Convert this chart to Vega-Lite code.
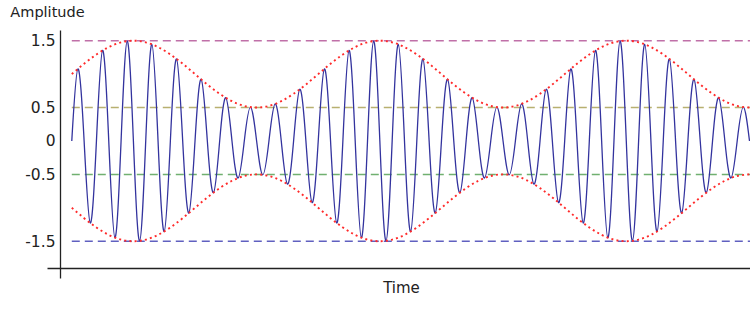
{
  "$schema": "https://vega.github.io/schema/vega-lite/v6.json",
  "autosize": "none",
  "width": 703,
  "height": 248,
  "padding": {"left": 47, "top": 30, "right": 0, "bottom": 39},
  "background": "white",
  "config": {"view": {"stroke": null}, "font": "DejaVu Sans"},
  "datasets": {
    "sig": [
      {"t":0,"v":0},{"t":0.25,"v":1.078},{"t":0.5,"v":0},{"t":0.75,"v":-1.227},
      {"t":1,"v":0},{"t":1.25,"v":1.354},{"t":1.5,"v":0},{"t":1.75,"v":-1.446},
      {"t":2,"v":0},{"t":2.25,"v":1.494},{"t":2.5,"v":0},{"t":2.75,"v":-1.494},
      {"t":3,"v":0},{"t":3.25,"v":1.446},{"t":3.5,"v":0},{"t":3.75,"v":-1.354},
      {"t":4,"v":0},{"t":4.25,"v":1.227},{"t":4.5,"v":0},{"t":4.75,"v":-1.078},
      {"t":5,"v":0},{"t":5.25,"v":0.922},{"t":5.5,"v":0},{"t":5.75,"v":-0.773},
      {"t":6,"v":0},{"t":6.25,"v":0.646},{"t":6.5,"v":0},{"t":6.75,"v":-0.554},
      {"t":7,"v":0},{"t":7.25,"v":0.506},{"t":7.5,"v":0},{"t":7.75,"v":-0.506},
      {"t":8,"v":0},{"t":8.25,"v":0.554},{"t":8.5,"v":0},{"t":8.75,"v":-0.646},
      {"t":9,"v":0},{"t":9.25,"v":0.773},{"t":9.5,"v":0},{"t":9.75,"v":-0.922},
      {"t":10,"v":0},{"t":10.25,"v":1.078},{"t":10.5,"v":0},{"t":10.75,"v":-1.227},
      {"t":11,"v":0},{"t":11.25,"v":1.354},{"t":11.5,"v":0},{"t":11.75,"v":-1.446},
      {"t":12,"v":0},{"t":12.25,"v":1.494},{"t":12.5,"v":0},{"t":12.75,"v":-1.494},
      {"t":13,"v":0},{"t":13.25,"v":1.446},{"t":13.5,"v":0},{"t":13.75,"v":-1.354},
      {"t":14,"v":0},{"t":14.25,"v":1.227},{"t":14.5,"v":0},{"t":14.75,"v":-1.078},
      {"t":15,"v":0},{"t":15.25,"v":0.922},{"t":15.5,"v":0},{"t":15.75,"v":-0.773},
      {"t":16,"v":0},{"t":16.25,"v":0.646},{"t":16.5,"v":0},{"t":16.75,"v":-0.554},
      {"t":17,"v":0},{"t":17.25,"v":0.506},{"t":17.5,"v":0},{"t":17.75,"v":-0.506},
      {"t":18,"v":0},{"t":18.25,"v":0.554},{"t":18.5,"v":0},{"t":18.75,"v":-0.646},
      {"t":19,"v":0},{"t":19.25,"v":0.773},{"t":19.5,"v":0},{"t":19.75,"v":-0.922},
      {"t":20,"v":0},{"t":20.25,"v":1.078},{"t":20.5,"v":0},{"t":20.75,"v":-1.227},
      {"t":21,"v":0},{"t":21.25,"v":1.354},{"t":21.5,"v":0},{"t":21.75,"v":-1.446},
      {"t":22,"v":0},{"t":22.25,"v":1.494},{"t":22.5,"v":0},{"t":22.75,"v":-1.494},
      {"t":23,"v":0},{"t":23.25,"v":1.446},{"t":23.5,"v":0},{"t":23.75,"v":-1.354},
      {"t":24,"v":0},{"t":24.25,"v":1.227},{"t":24.5,"v":0},{"t":24.75,"v":-1.078},
      {"t":25,"v":0},{"t":25.25,"v":0.922},{"t":25.5,"v":0},{"t":25.75,"v":-0.773},
      {"t":26,"v":0},{"t":26.25,"v":0.646},{"t":26.5,"v":0},{"t":26.75,"v":-0.554},
      {"t":27,"v":0},{"t":27.25,"v":0.506},{"t":27.5,"v":0}
    ],
    "env": [
      {"t":0,"u":1.0,"l":-1.0},{"t":0.5,"u":1.155,"l":-1.155},{"t":1,"u":1.294,"l":-1.294},{"t":1.5,"u":1.405,"l":-1.405},
      {"t":2,"u":1.476,"l":-1.476},{"t":2.5,"u":1.5,"l":-1.5},{"t":3,"u":1.476,"l":-1.476},{"t":3.5,"u":1.405,"l":-1.405},
      {"t":4,"u":1.294,"l":-1.294},{"t":4.5,"u":1.155,"l":-1.155},{"t":5,"u":1.0,"l":-1.0},{"t":5.5,"u":0.845,"l":-0.845},
      {"t":6,"u":0.706,"l":-0.706},{"t":6.5,"u":0.595,"l":-0.595},{"t":7,"u":0.524,"l":-0.524},{"t":7.5,"u":0.5,"l":-0.5},
      {"t":8,"u":0.524,"l":-0.524},{"t":8.5,"u":0.595,"l":-0.595},{"t":9,"u":0.706,"l":-0.706},{"t":9.5,"u":0.845,"l":-0.845},
      {"t":10,"u":1.0,"l":-1.0},{"t":10.5,"u":1.155,"l":-1.155},{"t":11,"u":1.294,"l":-1.294},{"t":11.5,"u":1.405,"l":-1.405},
      {"t":12,"u":1.476,"l":-1.476},{"t":12.5,"u":1.5,"l":-1.5},{"t":13,"u":1.476,"l":-1.476},{"t":13.5,"u":1.405,"l":-1.405},
      {"t":14,"u":1.294,"l":-1.294},{"t":14.5,"u":1.155,"l":-1.155},{"t":15,"u":1.0,"l":-1.0},{"t":15.5,"u":0.845,"l":-0.845},
      {"t":16,"u":0.706,"l":-0.706},{"t":16.5,"u":0.595,"l":-0.595},{"t":17,"u":0.524,"l":-0.524},{"t":17.5,"u":0.5,"l":-0.5},
      {"t":18,"u":0.524,"l":-0.524},{"t":18.5,"u":0.595,"l":-0.595},{"t":19,"u":0.706,"l":-0.706},{"t":19.5,"u":0.845,"l":-0.845},
      {"t":20,"u":1.0,"l":-1.0},{"t":20.5,"u":1.155,"l":-1.155},{"t":21,"u":1.294,"l":-1.294},{"t":21.5,"u":1.405,"l":-1.405},
      {"t":22,"u":1.476,"l":-1.476},{"t":22.5,"u":1.5,"l":-1.5},{"t":23,"u":1.476,"l":-1.476},{"t":23.5,"u":1.405,"l":-1.405},
      {"t":24,"u":1.294,"l":-1.294},{"t":24.5,"u":1.155,"l":-1.155},{"t":25,"u":1.0,"l":-1.0},{"t":25.5,"u":0.845,"l":-0.845},
      {"t":26,"u":0.706,"l":-0.706},{"t":26.5,"u":0.595,"l":-0.595},{"t":27,"u":0.524,"l":-0.524},{"t":27.5,"u":0.5,"l":-0.5}
    ],
    "ref": [
      {"lvl":"a","y":1.5,"t0":0,"t1":27.52},
      {"lvl":"b","y":0.5,"t0":0,"t1":27.52},
      {"lvl":"c","y":-0.5,"t0":0,"t1":27.52},
      {"lvl":"d","y":-1.5,"t0":0,"t1":27.52}
    ]
  },
  "encoding": {
    "x": {
      "type": "quantitative",
      "scale": {"domain": [-1.006, 27.52], "nice": false, "zero": false},
      "axis": {
        "title": "Time",
        "orient": "bottom",
        "offset": -10,
        "labels": false,
        "ticks": false,
        "grid": false,
        "domainColor": "#222222",
        "domainWidth": 1.3,
        "titleFont": "DejaVu Sans",
        "titleFontSize": 15,
        "titleFontWeight": "normal",
        "titleColor": "#222222",
        "titleX": 354,
        "titleY": 24,
        "titleBaseline": "alphabetic",
        "titleAlign": "center"
      }
    },
    "y": {
      "type": "quantitative",
      "scale": {"domain": [-2.05, 1.66], "nice": false, "zero": false},
      "axis": {
        "title": "Amplitude",
        "orient": "left",
        "offset": -13,
        "values": [1.5, 0.5, 0, -0.5, -1.5],
        "format": ".1~f",
        "labelExpr": "replace(datum.label, '\u2212', '-')",
        "ticks": false,
        "grid": false,
        "labelPadding": 5,
        "labelFont": "DejaVu Sans",
        "labelFontSize": 15.5,
        "labelColor": "#222222",
        "labelOverlap": false,
        "labelBound": false,
        "labelFlush": false,
        "domainColor": "#222222",
        "domainWidth": 1.3,
        "titleFont": "DejaVu Sans",
        "titleFontSize": 14.5,
        "titleFontWeight": "normal",
        "titleColor": "#222222",
        "titleAngle": 0,
        "titleAlign": "center",
        "titleBaseline": "alphabetic",
        "titleX": -13,
        "titleY": -13.5
      }
    }
  },
  "layer": [
    {
      "data": {"name": "ref"},
      "mark": {"type": "rule", "strokeDash": [8, 5], "strokeWidth": 1.5},
      "encoding": {
        "x": {"field": "t0", "type": "quantitative"},
        "x2": {"field": "t1"},
        "y": {"field": "y", "type": "quantitative"},
        "color": {
          "field": "lvl",
          "type": "nominal",
          "scale": {"domain": ["a", "b", "c", "d"], "range": ["#c070a8", "#b8b070", "#70b070", "#6060c0"]},
          "legend": null
        }
      }
    },
    {
      "data": {"name": "sig"},
      "mark": {"type": "line", "interpolate": "natural", "color": "#33339e", "strokeWidth": 1.3, "clip": true},
      "encoding": {
        "x": {"field": "t", "type": "quantitative"},
        "y": {"field": "v", "type": "quantitative"}
      }
    },
    {
      "data": {"name": "env"},
      "mark": {"type": "line", "interpolate": "natural", "color": "#ff2a2a", "strokeWidth": 1.9, "strokeDash": [2, 3.2], "clip": true},
      "encoding": {
        "x": {"field": "t", "type": "quantitative"},
        "y": {"field": "u", "type": "quantitative"}
      }
    },
    {
      "data": {"name": "env"},
      "mark": {"type": "line", "interpolate": "natural", "color": "#ff2a2a", "strokeWidth": 1.9, "strokeDash": [2, 3.2], "clip": true},
      "encoding": {
        "x": {"field": "t", "type": "quantitative"},
        "y": {"field": "l", "type": "quantitative"}
      }
    }
  ]
}
